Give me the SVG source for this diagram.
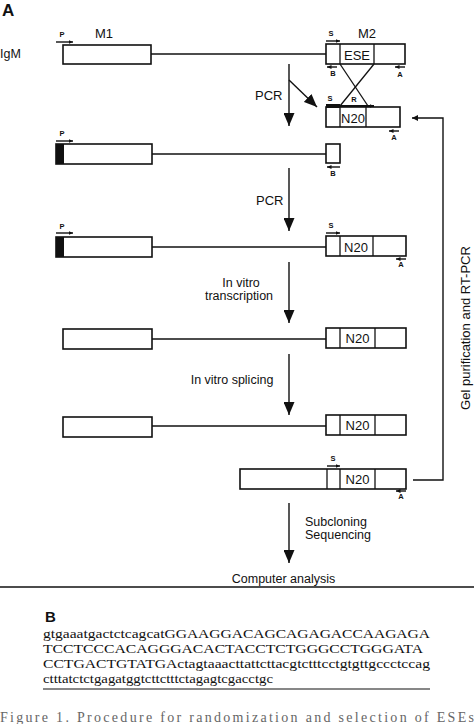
<svg xmlns="http://www.w3.org/2000/svg" width="474" height="724" viewBox="0 0 474 724">
<style>
.box{fill:#fff;stroke:#111;stroke-width:1.6}
.ln{stroke:#111;stroke-width:1.3;fill:none}
.pl{stroke:#111;stroke-width:1.4;fill:none}
.t{font-family:"Liberation Sans",Arial,sans-serif;font-size:12.5px;fill:#111}
.m{font-family:"Liberation Sans",Arial,sans-serif;font-size:13px;fill:#111}
.pr{font-family:"Liberation Sans",Arial,sans-serif;font-size:7.5px;font-weight:bold;fill:#111;text-anchor:middle}
.big{font-family:"Liberation Sans",Arial,sans-serif;font-weight:bold;fill:#111}
.seq{font-family:"Liberation Serif","Times New Roman",serif;font-size:13px;fill:#111}
.c{text-anchor:middle}
</style>
<defs>
<marker id="ah" markerUnits="userSpaceOnUse" markerWidth="14" markerHeight="11" refX="13" refY="5.5" orient="auto"><path d="M0,0 L13,5.5 L0,11 z" fill="#111"/></marker>
<marker id="sa" markerUnits="userSpaceOnUse" markerWidth="7" markerHeight="6" refX="6" refY="3" orient="auto"><path d="M0,0 L6,3 L0,6 z" fill="#111"/></marker>
<marker id="pa" markerUnits="userSpaceOnUse" markerWidth="5" markerHeight="4" refX="4.5" refY="2" orient="auto"><path d="M0,0 L4.5,2 L0,4 z" fill="#111"/></marker>
</defs>

<text class="big" x="2" y="16" font-size="17">A</text>
<text class="t" x="0" y="58">IgM</text>

<g id="row1">
<rect class="box" x="63" y="45" width="88" height="19"/>
<text class="m" x="95" y="38">M1</text>
<line class="pl" x1="56" y1="42" x2="73" y2="42" marker-end="url(#pa)"/>
<text class="pr" x="62" y="37">P</text>
<line class="ln" x1="151" y1="54" x2="326" y2="54"/>
<rect class="box" x="326" y="44" width="79" height="20"/>
<line class="ln" x1="340" y1="44" x2="340" y2="64"/>
<line class="ln" x1="374" y1="44" x2="374" y2="64"/>
<text class="m c" x="357" y="60">ESE</text>
<text class="m c" x="367" y="38">M2</text>
<line class="pl" x1="326" y1="41" x2="340" y2="41" marker-end="url(#pa)"/>
<text class="pr" x="331" y="36">S</text>
<line class="pl" x1="337" y1="67" x2="327" y2="67" marker-end="url(#pa)"/>
<text class="pr" x="333" y="76">B</text>
<line class="pl" x1="405" y1="67" x2="395" y2="67" marker-end="url(#pa)"/>
<text class="pr" x="400" y="77">A</text>
<line class="ln" x1="340" y1="64" x2="368" y2="106"/>
<line class="ln" x1="374" y1="64" x2="340" y2="106"/>
</g>

<g id="row2">
<rect class="box" x="326" y="107" width="74" height="20"/>
<line class="ln" x1="340" y1="107" x2="340" y2="127"/>
<line class="ln" x1="366" y1="107" x2="366" y2="127"/>
<text class="m c" x="353" y="123">N20</text>
<rect x="326" y="104" width="14" height="4" fill="#111"/>
<line x1="340" y1="106" x2="374" y2="106" stroke="#111" stroke-width="2" marker-end="url(#pa)"/>
<text class="pr" x="330" y="101">S</text>
<text class="pr" x="354" y="102">R</text>
<line class="pl" x1="399" y1="131" x2="389" y2="131" marker-end="url(#pa)"/>
<text class="pr" x="394" y="140">A</text>
</g>

<g id="row3">
<rect class="box" x="56" y="144" width="96" height="20"/>
<rect x="56" y="144" width="8" height="20" fill="#111"/>
<line class="pl" x1="56" y1="141" x2="73" y2="141" marker-end="url(#pa)"/>
<text class="pr" x="62" y="136">P</text>
<line class="ln" x1="152" y1="154" x2="326" y2="154"/>
<rect class="box" x="326" y="144" width="14" height="19"/>
<line class="pl" x1="340" y1="167" x2="327" y2="167" marker-end="url(#pa)"/>
<text class="pr" x="333" y="176">B</text>
</g>

<g id="row4">
<rect class="box" x="56" y="237" width="96" height="20"/>
<rect x="56" y="237" width="8" height="20" fill="#111"/>
<line class="pl" x1="56" y1="233" x2="73" y2="233" marker-end="url(#pa)"/>
<text class="pr" x="62" y="229">P</text>
<line class="ln" x1="152" y1="247" x2="326" y2="247"/>
<rect class="box" x="326" y="236" width="80" height="20"/>
<line class="ln" x1="340" y1="236" x2="340" y2="256"/>
<line class="ln" x1="373" y1="236" x2="373" y2="256"/>
<text class="m c" x="356" y="252">N20</text>
<line class="pl" x1="326" y1="233" x2="340" y2="233" marker-end="url(#pa)"/>
<text class="pr" x="331" y="228">S</text>
<line class="pl" x1="406" y1="259" x2="396" y2="259" marker-end="url(#pa)"/>
<text class="pr" x="401" y="267">A</text>
</g>

<g id="row5">
<rect class="box" x="63" y="329" width="89" height="20"/>
<line class="ln" x1="152" y1="339" x2="326" y2="339"/>
<rect class="box" x="326" y="328" width="80" height="20"/>
<line class="ln" x1="340" y1="328" x2="340" y2="348"/>
<line class="ln" x1="375" y1="328" x2="375" y2="348"/>
<text class="m c" x="357.5" y="343">N20</text>
</g>

<g id="row6">
<rect class="box" x="63" y="417" width="89" height="20"/>
<line class="ln" x1="152" y1="426" x2="326" y2="426"/>
<rect class="box" x="326" y="415" width="80" height="20"/>
<line class="ln" x1="340" y1="415" x2="340" y2="435"/>
<line class="ln" x1="375" y1="415" x2="375" y2="435"/>
<text class="m c" x="357.5" y="430">N20</text>
</g>

<g id="row7">
<rect class="box" x="240" y="469" width="166" height="20"/>
<line class="ln" x1="327" y1="469" x2="327" y2="489"/>
<line class="ln" x1="340" y1="469" x2="340" y2="489"/>
<line class="ln" x1="375" y1="469" x2="375" y2="489"/>
<text class="m c" x="357.5" y="484">N20</text>
<line class="pl" x1="327" y1="466" x2="340" y2="466" marker-end="url(#pa)"/>
<text class="pr" x="333" y="461">S</text>
<line class="pl" x1="406" y1="491" x2="396" y2="491" marker-end="url(#pa)"/>
<text class="pr" x="401" y="499">A</text>
</g>

<g id="connectors">
<line class="pl" x1="289" y1="64" x2="289" y2="126" marker-end="url(#ah)"/>
<line class="pl" x1="289" y1="80" x2="317" y2="107" marker-end="url(#ah)"/>
<line class="pl" x1="289" y1="168" x2="289" y2="231" marker-end="url(#ah)"/>
<line class="pl" x1="289" y1="262" x2="289" y2="323" marker-end="url(#ah)"/>
<line class="pl" x1="289" y1="354" x2="289" y2="415" marker-end="url(#ah)"/>
<line class="pl" x1="289" y1="503" x2="289" y2="563" marker-end="url(#ah)"/>
<path class="pl" d="M413,480 H443 V118 H412" marker-end="url(#sa)"/>
</g>

<g id="labels">
<text class="m" x="255" y="100">PCR</text>
<text class="m" x="256" y="205">PCR</text>
<text class="t c" x="241" y="287">In vitro</text>
<text class="t c" x="239" y="300">transcription</text>
<text class="t c" x="232" y="384">In vitro splicing</text>
<text class="t" x="305" y="526">Subcloning</text>
<text class="t" x="305" y="539">Sequencing</text>
<text class="t c" x="283.5" y="583">Computer analysis</text>
<text class="m c" transform="translate(470,328) rotate(-90)">Gel purification and RT-PCR</text>
</g>

<line x1="0" y1="587" x2="474" y2="587" stroke="#111" stroke-width="1.5"/>

<g id="panelB">
<text class="big" x="45" y="622" font-size="15">B</text>
<text class="seq" x="43" y="638" textLength="387" lengthAdjust="spacingAndGlyphs">gtgaaatgactctcagcatGGAAGGACAGCAGAGACCAAGAGA</text>
<text class="seq" x="43" y="653" textLength="380" lengthAdjust="spacingAndGlyphs">TCCTCCCACAGGGACACTACCTCTGGGCCTGGGATA</text>
<text class="seq" x="43" y="668" textLength="387" lengthAdjust="spacingAndGlyphs">CCTGACTGTATGActagtaaacttattcttacgtctttcctgtgttgccctccag</text>
<text class="seq" x="43" y="683" textLength="230" lengthAdjust="spacingAndGlyphs">ctttatctctgagatggtcttctttctagagtcgacctgc</text>
<line x1="43" y1="689" x2="430" y2="689" stroke="#111" stroke-width="1.2"/>
<text class="seq" x="0" y="722" style="fill:#666;font-size:14px" textLength="474" lengthAdjust="spacing">Figure 1.  Procedure for randomization and selection of ESEs</text>
</g>
</svg>
